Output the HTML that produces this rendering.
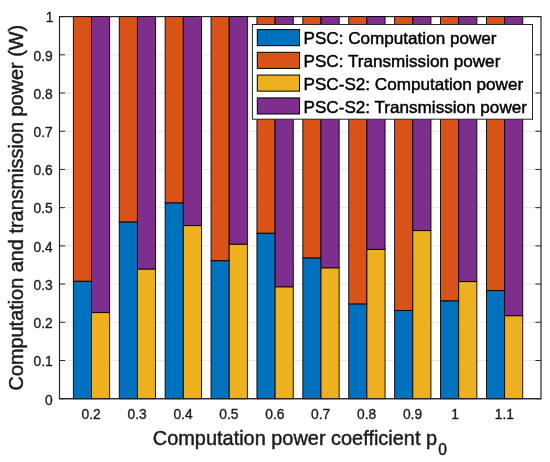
<!DOCTYPE html>
<html><head><meta charset="utf-8"><title>Computation and transmission power</title>
<style>html,body{margin:0;padding:0;background:#fff}svg{display:block}text{font-family:"Liberation Sans",Arial,Helvetica,sans-serif;fill:#262626}.t{font-size:13.8px;fill:#1c1c1c;stroke:#1c1c1c;stroke-width:.35px}.l{font-size:19.93px;fill:#1c1c1c;stroke:#1c1c1c;stroke-width:.45px}.g{font-size:17.12px;fill:#000;stroke:#000;stroke-width:.45px}</style></head><body>
<svg width="550" height="462" viewBox="0 0 550 462">
<rect x="0" y="0" width="550" height="462" fill="#fff"/>
<line x1="59.5" x2="541.0" y1="360.49" y2="360.49" stroke="#e8e8e8" stroke-width="1"/>
<line x1="59.5" x2="541.0" y1="322.28" y2="322.28" stroke="#e8e8e8" stroke-width="1"/>
<line x1="59.5" x2="541.0" y1="284.07" y2="284.07" stroke="#e8e8e8" stroke-width="1"/>
<line x1="59.5" x2="541.0" y1="245.86" y2="245.86" stroke="#e8e8e8" stroke-width="1"/>
<line x1="59.5" x2="541.0" y1="207.65" y2="207.65" stroke="#e8e8e8" stroke-width="1"/>
<line x1="59.5" x2="541.0" y1="169.44" y2="169.44" stroke="#e8e8e8" stroke-width="1"/>
<line x1="59.5" x2="541.0" y1="131.23" y2="131.23" stroke="#e8e8e8" stroke-width="1"/>
<line x1="59.5" x2="541.0" y1="93.02" y2="93.02" stroke="#e8e8e8" stroke-width="1"/>
<line x1="59.5" x2="541.0" y1="54.81" y2="54.81" stroke="#e8e8e8" stroke-width="1"/>
<rect x="59.5" y="16.6" width="481.5" height="382.09999999999997" fill="none" stroke="#262626" stroke-width="1.2"/>
<line x1="59.5" x2="65.1" y1="398.70" y2="398.70" stroke="#262626" stroke-width="1"/>
<line x1="541.0" x2="535.4" y1="398.70" y2="398.70" stroke="#262626" stroke-width="1"/>
<text class="t" x="52.8" y="404.50" text-anchor="end">0</text>
<line x1="59.5" x2="65.1" y1="360.49" y2="360.49" stroke="#262626" stroke-width="1"/>
<line x1="541.0" x2="535.4" y1="360.49" y2="360.49" stroke="#262626" stroke-width="1"/>
<text class="t" x="52.8" y="366.29" text-anchor="end">0.1</text>
<line x1="59.5" x2="65.1" y1="322.28" y2="322.28" stroke="#262626" stroke-width="1"/>
<line x1="541.0" x2="535.4" y1="322.28" y2="322.28" stroke="#262626" stroke-width="1"/>
<text class="t" x="52.8" y="328.08" text-anchor="end">0.2</text>
<line x1="59.5" x2="65.1" y1="284.07" y2="284.07" stroke="#262626" stroke-width="1"/>
<line x1="541.0" x2="535.4" y1="284.07" y2="284.07" stroke="#262626" stroke-width="1"/>
<text class="t" x="52.8" y="289.87" text-anchor="end">0.3</text>
<line x1="59.5" x2="65.1" y1="245.86" y2="245.86" stroke="#262626" stroke-width="1"/>
<line x1="541.0" x2="535.4" y1="245.86" y2="245.86" stroke="#262626" stroke-width="1"/>
<text class="t" x="52.8" y="251.66" text-anchor="end">0.4</text>
<line x1="59.5" x2="65.1" y1="207.65" y2="207.65" stroke="#262626" stroke-width="1"/>
<line x1="541.0" x2="535.4" y1="207.65" y2="207.65" stroke="#262626" stroke-width="1"/>
<text class="t" x="52.8" y="213.45" text-anchor="end">0.5</text>
<line x1="59.5" x2="65.1" y1="169.44" y2="169.44" stroke="#262626" stroke-width="1"/>
<line x1="541.0" x2="535.4" y1="169.44" y2="169.44" stroke="#262626" stroke-width="1"/>
<text class="t" x="52.8" y="175.24" text-anchor="end">0.6</text>
<line x1="59.5" x2="65.1" y1="131.23" y2="131.23" stroke="#262626" stroke-width="1"/>
<line x1="541.0" x2="535.4" y1="131.23" y2="131.23" stroke="#262626" stroke-width="1"/>
<text class="t" x="52.8" y="137.03" text-anchor="end">0.7</text>
<line x1="59.5" x2="65.1" y1="93.02" y2="93.02" stroke="#262626" stroke-width="1"/>
<line x1="541.0" x2="535.4" y1="93.02" y2="93.02" stroke="#262626" stroke-width="1"/>
<text class="t" x="52.8" y="98.82" text-anchor="end">0.8</text>
<line x1="59.5" x2="65.1" y1="54.81" y2="54.81" stroke="#262626" stroke-width="1"/>
<line x1="541.0" x2="535.4" y1="54.81" y2="54.81" stroke="#262626" stroke-width="1"/>
<text class="t" x="52.8" y="60.61" text-anchor="end">0.9</text>
<line x1="59.5" x2="65.1" y1="16.60" y2="16.60" stroke="#262626" stroke-width="1"/>
<line x1="541.0" x2="535.4" y1="16.60" y2="16.60" stroke="#262626" stroke-width="1"/>
<text class="t" x="53.5" y="22.40" text-anchor="end">1</text>
<g stroke="#000" stroke-width="0.9">
<rect x="73.35" y="281.20" width="18.15" height="117.50" fill="#0072BD"/>
<rect x="73.35" y="16.60" width="18.15" height="264.60" fill="#D95319"/>
<rect x="91.50" y="312.60" width="18.15" height="86.10" fill="#EDB120"/>
<rect x="91.50" y="16.60" width="18.15" height="296.00" fill="#7E2F8E"/>
</g>
<text class="t" x="91.20" y="419" text-anchor="middle">0.2</text>
<g stroke="#000" stroke-width="0.9">
<rect x="119.25" y="221.90" width="18.15" height="176.80" fill="#0072BD"/>
<rect x="119.25" y="16.60" width="18.15" height="205.30" fill="#D95319"/>
<rect x="137.40" y="269.00" width="18.15" height="129.70" fill="#EDB120"/>
<rect x="137.40" y="16.60" width="18.15" height="252.40" fill="#7E2F8E"/>
</g>
<text class="t" x="137.10" y="419" text-anchor="middle">0.3</text>
<g stroke="#000" stroke-width="0.9">
<rect x="165.15" y="202.80" width="18.15" height="195.90" fill="#0072BD"/>
<rect x="165.15" y="16.60" width="18.15" height="186.20" fill="#D95319"/>
<rect x="183.30" y="225.60" width="18.15" height="173.10" fill="#EDB120"/>
<rect x="183.30" y="16.60" width="18.15" height="209.00" fill="#7E2F8E"/>
</g>
<text class="t" x="183.00" y="419" text-anchor="middle">0.4</text>
<g stroke="#000" stroke-width="0.9">
<rect x="211.05" y="260.70" width="18.15" height="138.00" fill="#0072BD"/>
<rect x="211.05" y="16.60" width="18.15" height="244.10" fill="#D95319"/>
<rect x="229.20" y="244.10" width="18.15" height="154.60" fill="#EDB120"/>
<rect x="229.20" y="16.60" width="18.15" height="227.50" fill="#7E2F8E"/>
</g>
<text class="t" x="228.90" y="419" text-anchor="middle">0.5</text>
<g stroke="#000" stroke-width="0.9">
<rect x="256.95" y="233.20" width="18.15" height="165.50" fill="#0072BD"/>
<rect x="256.95" y="16.60" width="18.15" height="216.60" fill="#D95319"/>
<rect x="275.10" y="286.80" width="18.15" height="111.90" fill="#EDB120"/>
<rect x="275.10" y="16.60" width="18.15" height="270.20" fill="#7E2F8E"/>
</g>
<text class="t" x="274.80" y="419" text-anchor="middle">0.6</text>
<g stroke="#000" stroke-width="0.9">
<rect x="302.85" y="257.90" width="18.15" height="140.80" fill="#0072BD"/>
<rect x="302.85" y="16.60" width="18.15" height="241.30" fill="#D95319"/>
<rect x="321.00" y="267.80" width="18.15" height="130.90" fill="#EDB120"/>
<rect x="321.00" y="16.60" width="18.15" height="251.20" fill="#7E2F8E"/>
</g>
<text class="t" x="320.70" y="419" text-anchor="middle">0.7</text>
<g stroke="#000" stroke-width="0.9">
<rect x="348.75" y="303.90" width="18.15" height="94.80" fill="#0072BD"/>
<rect x="348.75" y="16.60" width="18.15" height="287.30" fill="#D95319"/>
<rect x="366.90" y="249.30" width="18.15" height="149.40" fill="#EDB120"/>
<rect x="366.90" y="16.60" width="18.15" height="232.70" fill="#7E2F8E"/>
</g>
<text class="t" x="366.60" y="419" text-anchor="middle">0.8</text>
<g stroke="#000" stroke-width="0.9">
<rect x="394.65" y="310.50" width="18.15" height="88.20" fill="#0072BD"/>
<rect x="394.65" y="16.60" width="18.15" height="293.90" fill="#D95319"/>
<rect x="412.80" y="230.60" width="18.15" height="168.10" fill="#EDB120"/>
<rect x="412.80" y="16.60" width="18.15" height="214.00" fill="#7E2F8E"/>
</g>
<text class="t" x="412.50" y="419" text-anchor="middle">0.9</text>
<g stroke="#000" stroke-width="0.9">
<rect x="440.55" y="300.80" width="18.15" height="97.90" fill="#0072BD"/>
<rect x="440.55" y="16.60" width="18.15" height="284.20" fill="#D95319"/>
<rect x="458.70" y="281.60" width="18.15" height="117.10" fill="#EDB120"/>
<rect x="458.70" y="16.60" width="18.15" height="265.00" fill="#7E2F8E"/>
</g>
<text class="t" x="455.20" y="419" text-anchor="middle">1</text>
<g stroke="#000" stroke-width="0.9">
<rect x="486.45" y="290.60" width="18.15" height="108.10" fill="#0072BD"/>
<rect x="486.45" y="16.60" width="18.15" height="274.00" fill="#D95319"/>
<rect x="504.60" y="315.70" width="18.15" height="83.00" fill="#EDB120"/>
<rect x="504.60" y="16.60" width="18.15" height="299.10" fill="#7E2F8E"/>
</g>
<text class="t" x="504.30" y="419" text-anchor="middle">1.1</text>
<line x1="59.5" x2="541.0" y1="398.7" y2="398.7" stroke="#262626" stroke-width="1"/>
<text class="l" x="152.8" y="445" >Computation power coefficient p<tspan font-size="15.6px" dx="1.2" dy="10">0</tspan></text>
<text class="l" style="font-size:19.89px" transform="translate(23.4,207.65) rotate(-90)" text-anchor="middle">Computation and transmission power (W)</text>
<rect x="252.4" y="24.5" width="280.10" height="94.70" fill="#fff" stroke="#262626" stroke-width="1"/>
<rect x="257.3" y="29.6" width="42.2" height="16.1" fill="#0072BD" stroke="#000" stroke-width="1"/>
<text class="g" x="303.5" y="44.35">PSC: Computation power</text>
<rect x="257.3" y="52.3" width="42.2" height="16.1" fill="#D95319" stroke="#000" stroke-width="1"/>
<text class="g" x="303.5" y="67.05">PSC: Transmission power</text>
<rect x="257.3" y="75.05" width="42.2" height="16.1" fill="#EDB120" stroke="#000" stroke-width="1"/>
<text class="g" x="303.5" y="89.80">PSC-S2: Computation power</text>
<rect x="257.3" y="97.9" width="42.2" height="16.1" fill="#7E2F8E" stroke="#000" stroke-width="1"/>
<text class="g" x="303.5" y="112.65">PSC-S2: Transmission power</text>
</svg></body></html>
